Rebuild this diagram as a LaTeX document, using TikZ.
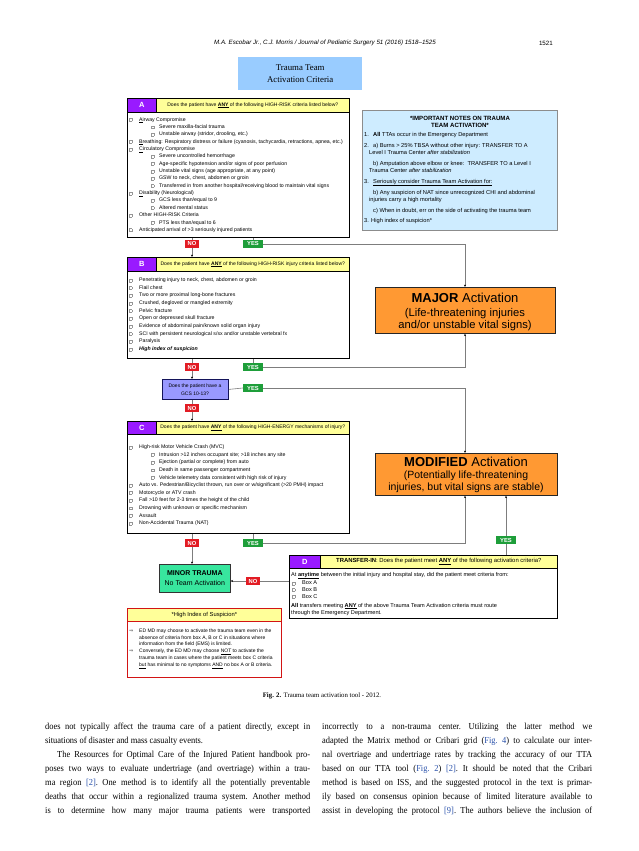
\documentclass[tikz,border=0pt]{standalone}
\usepackage{fontspec}
\setmainfont{Liberation Sans}
\newfontfamily\serifrm{Liberation Serif}
\newfontfamily\bodyrm[FakeStretch=0.915]{Liberation Serif}
\newfontfamily\djv{DejaVu Sans}
\usetikzlibrary{arrows.meta}
\definecolor{tabpurple}{RGB}{153,26,255}
\definecolor{hdryellow}{RGB}{255,255,153}
\definecolor{nored}{RGB}{226,28,36}
\definecolor{yesgreen}{RGB}{30,158,58}
\definecolor{actorange}{RGB}{255,153,51}
\definecolor{minorgreen}{RGB}{56,230,158}
\definecolor{gcsblue}{RGB}{153,153,255}
\definecolor{gcsedge}{RGB}{20,20,90}
\definecolor{titleblue}{RGB}{153,204,255}
\definecolor{notesblue}{RGB}{206,236,255}
\definecolor{hired}{RGB}{210,20,20}
\definecolor{linegray}{RGB}{125,125,125}
\definecolor{cbgray}{RGB}{150,150,150}
\definecolor{refblue}{RGB}{40,80,170}
\newcommand\fsz[2]{\fontsize{#1}{#2}\selectfont}
\newcommand\itemfont{\fsz{5.2}{6}}
\newcommand\cbx{\textcolor{cbgray}{\setlength\fboxsep{0pt}\setlength\fboxrule{0.3pt}\fbox{\rule{0pt}{2.6pt}\hspace{2.6pt}}}}
\newcommand\cb[1]{\makebox[#1][l]{\cbx}}
\newcommand\arrw{\makebox[10pt][l]{\textcolor{black!70}{\djv\fsz{5}{5}⇒}}}
\newcommand\jl[2]{\makebox[#1][s]{#2}}
\newcommand\rf[1]{\textcolor{refblue}{#1}}
\begin{document}
\begin{tikzpicture}[x=1pt,y=-1pt,
  frame/.style={draw=black,line width=0.9pt,fill=white,inner sep=0,anchor=north west},
  hdrbar/.style={draw=black,line width=0.6pt,fill=hdryellow,inner sep=0,anchor=north west,font=\fsz{5.05}{6}},
  lettertab/.style={draw=black,line width=0.6pt,fill=tabpurple,text=white,inner sep=0,anchor=north west,font=\fsz{7.5}{8}\bfseries},
  item/.style={anchor=base west,inner sep=0,font=\itemfont},
  note/.style={anchor=base west,inner sep=0,font=\fsz{5.7}{6.5}},
  ditem/.style={anchor=base west,inner sep=0,font=\fsz{5.6}{6.5}},
  hitem/.style={anchor=base west,inner sep=0,font=\fsz{5.0}{6}},
  nolbl/.style={fill=nored,text=white,inner sep=0,minimum width=14pt,minimum height=8.5pt,font=\fsz{5.8}{6}\bfseries},
  yeslbl/.style={fill=yesgreen,text=white,inner sep=0,minimum width=20pt,minimum height=8.5pt,font=\fsz{5.8}{6}\bfseries},
  conn/.style={draw=linegray,line width=0.6pt},
  arr/.style={-{Stealth[length=2.4pt,width=2pt,black]}},
  actbox/.style={draw=black!85,line width=0.7pt,fill=actorange,inner sep=0,anchor=north west},
  acttxt/.style={anchor=base,inner sep=0},
  body/.style={anchor=base west,inner sep=0,font=\bodyrm\fsz{9.2}{14}\frenchspacing},
]
\fill[white] (0,0) rectangle (638,851);
\useasboundingbox (0,0) rectangle (638,851);

% running head
\node[inner sep=0,font=\fsz{6.2}{7}\itshape] (runhead) at (325,43) {M.A. Escobar Jr., C.J. Morris / Journal of Pediatric Surgery 51 (2016) 1518–1525};
\node[anchor=east,inner sep=0,font=\fsz{6.2}{7}] (pageno) at (553,43) {1521};

% title
\node[fill=titleblue,anchor=north west,minimum width=124pt,minimum height=33pt,inner sep=0,align=center,font=\serifrm\fsz{8.8}{12.5}] (title) at (238,57) {Trauma Team\\Activation Criteria};

% ---------- Box A
\node[frame,minimum width=222pt,minimum height=139pt] (boxA) at (127,98) {};
\node[hdrbar,minimum width=193pt,minimum height=14pt] (hdrA) at (156,98) {Does the patient have \textbf{\underline{ANY}} of the following HIGH-RISK criteria listed below?};
\node[lettertab,minimum width=29pt,minimum height=14pt] (tabA) at (127,98) {A};
\node[item] (a1) at (129,121.1) {\cb{10pt}\underline{A}irway Compromise};
\node[item] (a2) at (151,128.45) {\cb{8pt}Severe maxilla-facial trauma};
\node[item] (a3) at (151,135.8) {\cb{8pt}Unstable airway (stridor, drooling, etc.)};
\node[item] (a4) at (129,143.15) {\cb{10pt}\underline{B}reathing: Respiratory distress or failure (cyanosis, tachycardia, retractions, apnea, etc.)};
\node[item] (a5) at (129,150.5) {\cb{10pt}\underline{C}irculatory Compromise};
\node[item] (a6) at (151,157.85) {\cb{8pt}Severe uncontrolled hemorrhage};
\node[item] (a7) at (151,165.2) {\cb{8pt}Age-specific hypotension and/or signs of poor perfusion};
\node[item] (a8) at (151,172.55) {\cb{8pt}Unstable vital signs (age appropriate, at any point)};
\node[item] (a9) at (151,179.9) {\cb{8pt}GSW to neck, chest, abdomen or groin};
\node[item] (a10) at (151,187.25) {\cb{8pt}Transferred in from another hospital/receiving blood to maintain vital signs};
\node[item] (a11) at (129,194.6) {\cb{10pt}\underline{D}isability (Neurological)};
\node[item] (a12) at (151,201.95) {\cb{8pt}GCS less than/equal to 9};
\node[item] (a13) at (151,209.3) {\cb{8pt}Altered mental status};
\node[item] (a14) at (129,216.65) {\cb{10pt}Other HIGH-RISK Criteria};
\node[item] (a15) at (151,224.0) {\cb{8pt}PTS less than/equal to 6};
\node[item] (a16) at (129,231.35) {\cb{10pt}Anticipated arrival of >3 seriously injured patients};

% ---------- Notes
\node[draw=black!45,line width=0.8pt,fill=notesblue,anchor=north west,minimum width=195pt,minimum height=120pt,inner sep=0] (notes) at (362,110) {};
\node[inner sep=0,font=\fsz{6.1}{7}\bfseries] (nt1) at (460,118) {*IMPORTANT NOTES ON TRAUMA};
\node[inner sep=0,font=\fsz{6.1}{7}\bfseries] (nt2) at (460,125.5) {TEAM ACTIVATION*};
\node[note] (n1) at (364,136) {\makebox[9pt][l]{1.}\textbf{All} TTAs occur in the Emergency Department};
\node[note] (n2) at (364,147) {\makebox[9pt][l]{2.}a) Burns > 25\% TBSA without other injury: TRANSFER TO A};
\node[note] (n3) at (369,154) {Level I Trauma Center \textit{after stabilization}};
\node[note] (n4) at (373,165) {b) Amputation above elbow or knee:\ \ TRANSFER TO a Level I};
\node[note] (n5) at (369,172) {Trauma Center \textit{after stabilization}};
\node[note] (n6) at (364,183) {\makebox[9pt][l]{3.}\underline{Seriously consider Trauma Team Activation for:}};
\node[note] (n7) at (373,194) {b) Any suspicion of NAT since unrecognized CHI and abdominal};
\node[note] (n8) at (369,201) {injuries carry a high mortality};
\node[note] (n9) at (373,212) {c) When in doubt, err on the side of activating the trauma team};
\node[note] (n10) at (364,222) {\makebox[7pt][l]{3.}High index of suspicion*};

% ---------- Box B
\node[frame,minimum width=222pt,minimum height=101pt] (boxB) at (127,257) {};
\node[hdrbar,minimum width=193pt,minimum height=14pt] (hdrB) at (156,257) {Does the patient have \textbf{\underline{ANY}} of the following HIGH-RISK injury criteria listed below?};
\node[lettertab,minimum width=29pt,minimum height=14pt] (tabB) at (127,257) {B};
\node[item] (b1) at (129,281.6) {\cb{10pt}Penetrating injury to neck, chest, abdomen or groin};
\node[item] (b2) at (129,289.27) {\cb{10pt}Flail chest};
\node[item] (b3) at (129,296.94) {\cb{10pt}Two or more proximal long-bone fractures};
\node[item] (b4) at (129,304.61) {\cb{10pt}Crushed, degloved or mangled extremity};
\node[item] (b5) at (129,312.28) {\cb{10pt}Pelvic fracture};
\node[item] (b6) at (129,319.95) {\cb{10pt}Open or depressed skull fracture};
\node[item] (b7) at (129,327.62) {\cb{10pt}Evidence of abdominal pain/known solid organ injury};
\node[item] (b8) at (129,335.29) {\cb{10pt}SCI with persistent neurological s/sx and/or unstable vertebral fx};
\node[item] (b9) at (129,342.96) {\cb{10pt}Paralysis};
\node[item] (b10) at (129,350.63) {\cb{10pt}\textbf{\textit{High index of suspicion}}};

% ---------- MAJOR
\node[actbox,minimum width=180pt,minimum height=46pt] (major) at (375,287) {};
\node[acttxt,font=\fsz{13}{14}] (mj1) at (465,302) {\textbf{MAJOR} Activation};
\node[acttxt,font=\fsz{11.2}{12}] (mj2) at (465,316) {(Life-threatening injuries};
\node[acttxt,font=\fsz{11.2}{12}] (mj3) at (465,328.5) {and/or unstable vital signs)};

% ---------- GCS
\node[draw=gcsedge,line width=0.8pt,fill=gcsblue,anchor=north west,minimum width=66pt,minimum height=20pt,inner sep=0] (gcs) at (162,379) {};
\node[acttxt,font=\fsz{5}{6}] (gcs1) at (195,387) {Does the patient have a};
\node[acttxt,font=\fsz{5}{6}] (gcs2) at (195,395) {GCS 10-13?};

% ---------- Box C
\node[frame,minimum width=222pt,minimum height=112pt] (boxC) at (127,421) {};
\node[hdrbar,minimum width=193pt,minimum height=13pt] (hdrC) at (156,421) {Does the patient have \textbf{\underline{ANY}} of the following HIGH-ENERGY mechanisms of injury?};
\node[lettertab,minimum width=29pt,minimum height=13pt] (tabC) at (127,421) {C};
\node[item] (c1) at (129,448.6) {\cb{10pt}High-risk Motor Vehicle Crash (MVC)};
\node[item] (c2) at (151,456.2) {\cb{8pt}Intrusion >12 inches occupant site; >18 inches any site};
\node[item] (c3) at (151,463.8) {\cb{8pt}Ejection (partial or complete) from auto};
\node[item] (c4) at (151,471.4) {\cb{8pt}Death in same passenger compartment};
\node[item] (c5) at (151,479.0) {\cb{8pt}Vehicle telemetry data consistent with high risk of injury};
\node[item] (c6) at (129,486.6) {\cb{10pt}Auto vs. Pedestrian/Bicyclist thrown, run over or w/significant (>20 PMH) impact};
\node[item] (c7) at (129,494.2) {\cb{10pt}Motorcycle or ATV crash};
\node[item] (c8) at (129,501.8) {\cb{10pt}Fall >10 feet for 2-3 times the height of the child};
\node[item] (c9) at (129,509.4) {\cb{10pt}Drowning with unknown or specific mechanism};
\node[item] (c10) at (129,517.0) {\cb{10pt}Assault};
\node[item] (c11) at (129,524.6) {\cb{10pt}Non-Accidental Trauma (NAT)};

% ---------- MODIFIED
\node[actbox,minimum width=182pt,minimum height=42pt] (modified) at (375,453) {};
\node[acttxt,font=\fsz{13}{14}] (md1) at (466,466) {\textbf{MODIFIED} Activation};
\node[acttxt,font=\fsz{10.5}{11}] (md2) at (466,478.5) {(Potentially life-threatening};
\node[acttxt,font=\fsz{10.5}{11}] (md3) at (466,490) {injuries, but vital signs are stable)};

% ---------- MINOR
\node[draw=black!80,line width=0.6pt,fill=minorgreen,anchor=north west,minimum width=71pt,minimum height=28pt,inner sep=0,align=center,font=\fsz{7}{10}] (minor) at (159,564) {\textbf{MINOR TRAUMA}\\No Team Activation};

% ---------- Box D
\node[frame,minimum width=268pt,minimum height=63pt] (boxD) at (289,555) {};
\node[hdrbar,minimum width=237pt,minimum height=13pt,font=\fsz{5.9}{6.5}] (hdrD) at (320,555) {\textbf{TRANSFER-IN}: Does the patient meet \textbf{\underline{ANY}} of the following activation criteria?};
\node[lettertab,minimum width=31pt,minimum height=13pt] (tabD) at (289,555) {D};
\node[ditem] (d1) at (291,576) {At \textbf{\underline{anytime}} between the initial injury and hospital stay, did the patient meet criteria from:};
\node[ditem] (d2) at (292,584.5) {\cb{10pt}Box A};
\node[ditem] (d3) at (292,591.3) {\cb{10pt}Box B};
\node[ditem] (d4) at (292,598.1) {\cb{10pt}Box C};
\node[ditem] (d5) at (291,607) {\textbf{All} transfers meeting \textbf{\underline{ANY}} of the above Trauma Team Activation criteria must route};
\node[ditem] (d6) at (291,614) {through the Emergency Department.};

% ---------- High index of suspicion
\node[draw=hired,line width=0.9pt,fill=white,anchor=north west,minimum width=154pt,minimum height=69pt,inner sep=0] (hibox) at (127,608) {};
\node[draw=hired,line width=0.7pt,fill=hdryellow,anchor=north west,minimum width=154pt,minimum height=12.5pt,inner sep=0,font=\fsz{5.8}{7}] (hihdr) at (127,608) {*High Index of Suspicion*};
\node[hitem] (h1) at (129,632) {\arrw ED MD may choose to activate the trauma team even in the};
\node[hitem] (h2) at (139,639) {absence of criteria from box A, B or C in situations where};
\node[hitem] (h3) at (139,645.5) {information from the field (EMS) is limited.};
\node[hitem] (h4) at (129,652.5) {\arrw Conversely, the ED MD may choose \underline{NOT} to activate the};
\node[hitem] (h5) at (139,659.5) {trauma team in cases where the patient meets box C criteria};
\node[hitem] (h6) at (139,666.5) {\underline{but} has minimal to no symptoms \underline{AND} no box A or B criteria.};

% ---------- decision labels
\node[nolbl] (noA) at (192,244) {NO};
\node[yeslbl] (yesA) at (253,244) {YES};
\node[nolbl] (noB) at (192,367) {NO};
\node[yeslbl] (yesB) at (253,367) {YES};
\node[yeslbl] (yesG) at (253,388) {YES};
\node[nolbl] (noG) at (192,408) {NO};
\node[nolbl] (noC) at (192,543) {NO};
\node[yeslbl] (yesC) at (253,543) {YES};
\node[yeslbl] (yesD) at (506,540) {YES};
\node[nolbl] (noD) at (253,581) {NO};
\coordinate (vx) at (465,300);

% ---------- connectors
\draw[conn] (noA |- boxA.south) -- (noA.north);
\draw[conn,arr] (noA.south) -- (noA |- boxB.north);
\draw[conn] (yesA |- boxA.south) -- (yesA.north);
\draw[conn,arr] (yesA.east) -| (vx |- major.north);
\draw[conn] (noB |- boxB.south) -- (noB.north);
\draw[conn,arr] (noB.south) -- (noB |- gcs.north);
\draw[conn] (yesB |- boxB.south) -- (yesB.north);
\draw[conn,arr] (yesB.east) -| (vx |- major.south);
\draw[conn] (gcs.east) -- (yesG.west);
\draw[conn,arr] (yesG.east) -| (vx |- modified.north);
\draw[conn] (noG |- gcs.south) -- (noG.north);
\draw[conn,arr] (noG.south) -- (noG |- boxC.north);
\draw[conn] (noC |- boxC.south) -- (noC.north);
\draw[conn,arr] (noC.south) -- (noC |- minor.north);
\draw[conn] (yesC |- boxC.south) -- (yesC.north);
\draw[conn,arr] (yesC.east) -| (vx |- modified.south);
\draw[conn] (yesD |- boxD.north) -- (yesD.south);
\draw[conn,arr] (yesD.north) -- (yesD |- modified.south);
\draw[conn] (boxD.west |- noD) -- (noD.east);
\draw[conn,arr] (noD.west) -- (noD -| minor.east);

% ---------- caption
\node[inner sep=0,font=\serifrm\fsz{6.8}{8}] (caption) at (322,696) {\textbf{Fig. 2.} Trauma team activation tool - 2012.};

% ---------- body text
\node[body] (l1) at (45,729.5) {\jl{265pt}{does not typically affect the trauma care of a patient directly, except in}};
\node[body] (l2) at (45,743.5) {situations of disaster and mass casualty events.};
\node[body] (l3) at (57,757.5) {\jl{253pt}{The Resources for Optimal Care of the Injured Patient handbook pro-}};
\node[body] (l4) at (45,771.5) {\jl{265pt}{poses two ways to evaluate undertriage (and overtriage) within a trau-}};
\node[body] (l5) at (45,785.5) {\jl{265pt}{ma region \rf{[2]}. One method is to identify all the potentially preventable}};
\node[body] (l6) at (45,799.5) {\jl{265pt}{deaths that occur within a regionalized trauma system. Another method}};
\node[body] (l7) at (45,813.5) {\jl{265pt}{is to determine how many major trauma patients were transported}};
\node[body] (r1) at (322,729.5) {\jl{270pt}{incorrectly to a non-trauma center. Utilizing the latter method we}};
\node[body] (r2) at (322,743.5) {\jl{270pt}{adapted the Matrix method or Cribari grid (\rf{Fig. 4}) to calculate our inter-}};
\node[body] (r3) at (322,757.5) {\jl{270pt}{nal overtriage and undertriage rates by tracking the accuracy of our TTA}};
\node[body] (r4) at (322,771.5) {\jl{270pt}{based on our TTA tool (\rf{Fig. 2}) \rf{[2]}. It should be noted that the Cribari}};
\node[body] (r5) at (322,785.5) {\jl{270pt}{method is based on ISS, and the suggested protocol in the text is primar-}};
\node[body] (r6) at (322,799.5) {\jl{270pt}{ily based on consensus opinion because of limited literature available to}};
\node[body] (r7) at (322,813.5) {\jl{270pt}{assist in developing the protocol \rf{[9]}. The authors believe the inclusion of}};
\end{tikzpicture}
\end{document}
